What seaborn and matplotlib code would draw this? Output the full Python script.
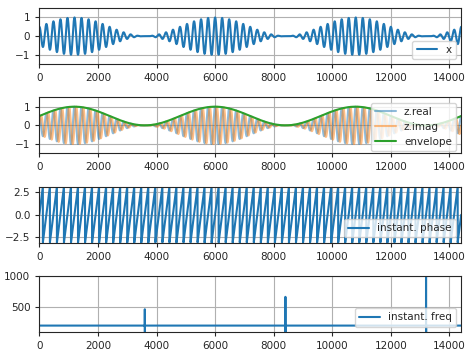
import numpy as np
import pandas as pd
import matplotlib
matplotlib.use("Agg")
import matplotlib.pyplot as plt
import seaborn as sns

# signal parameters
fs = 48000            # samples per second
n_samples = 14400
carrier_hz = 200
mod_hz = 10

# glitches of the instantaneous frequency where the envelope goes to zero
spike_samples = [3600, 8400, 13200]
spike_highs = [462, 661, 1400]
spike_lows = [-300, -300, -300]

sns.set_style("ticks")
plt.rcParams["font.family"] = ["DejaVu Sans"]
plt.rcParams["font.size"] = 7.5

n = np.arange(n_samples)
t = n / fs
envelope = 0.5 * (1 + np.sin(2 * np.pi * mod_hz * t))
z = envelope * np.exp(1j * 2 * np.pi * carrier_hz * t)
phase = np.angle(z)
freq = np.full(n_samples, float(carrier_hz))
for s, hi, lo in zip(spike_samples, spike_highs, spike_lows):
    freq[s] = hi
    freq[s + 1] = lo

df = pd.DataFrame({"n": n, "x": z.real, "real": z.real, "imag": z.imag,
                   "env": envelope, "phase": phase, "freq": freq})

fig, axes = plt.subplots(4, 1, figsize=(4.74, 3.53), dpi=100)
fig.subplots_adjust(left=0.083, right=0.973, top=0.977, bottom=0.06, hspace=0.59)

lw = 1.5

ax = axes[0]
sns.lineplot(data=df, x="n", y="x", ax=ax, color="C0", lw=lw, label="x")
ax.set_ylim(-1.5, 1.5)
ax.legend(loc="lower right")

ax = axes[1]
sns.lineplot(data=df, x="n", y="real", ax=ax, color="C0", lw=lw, alpha=0.5, label="z.real")
sns.lineplot(data=df, x="n", y="imag", ax=ax, color="C1", lw=lw, alpha=0.5, label="z.imag")
sns.lineplot(data=df, x="n", y="env", ax=ax, color="C2", lw=lw, label="envelope")
ax.set_ylim(-1.5, 1.5)
ax.legend(loc="upper right")

ax = axes[2]
sns.lineplot(data=df, x="n", y="phase", ax=ax, color="C0", lw=lw, label="instant. phase")
ax.set_ylim(-np.pi, np.pi)
ax.legend(loc="lower right")

ax = axes[3]
sns.lineplot(data=df, x="n", y="freq", ax=ax, color="C0", lw=lw, label="instant. freq")
ax.set_ylim(100, 1000)
ax.legend(loc="lower right")

for ax in axes:
    ax.set_xlim(0, n_samples)
    ax.set_xlabel("")
    ax.set_ylabel("")
    ax.grid(True, color="#b0b0b0", lw=0.8)
    ax.tick_params(labelsize=7.5, length=3)

fig.savefig("out.png", dpi=100)
